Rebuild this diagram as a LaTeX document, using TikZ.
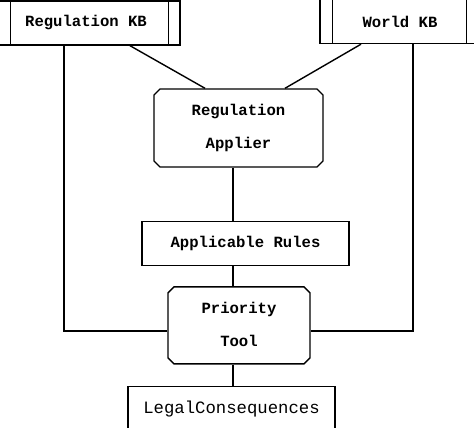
\documentclass[tikz,border=0pt]{standalone}
\usepackage{fontspec}
\setmonofont{Liberation Mono}
\usetikzlibrary{positioning,shapes.misc}
\newcommand{\boxfont}{\fontsize{15.6}{33}\selectfont\ttfamily\bfseries}
\tikzset{
 kbbox/.style={draw,line width=1.4pt,minimum height=44pt,inner sep=0pt,font=\boxfont},
 stepbox/.style={draw,line width=1.4pt,align=center,inner sep=0pt,font=\boxfont},
 cutbox/.style={stepbox,chamfered rectangle,chamfered rectangle xsep=3pt,chamfered rectangle ysep=3pt},
 link/.style={line width=1.4pt}
}
\begin{document}
\begin{tikzpicture}[x=1pt,y=-1pt]
\useasboundingbox (0,0) rectangle (474,428);
% knowledge bases
\node[kbbox,minimum width=184pt] (regkb) at (88,23) {\hspace*{-4pt}Regulation KB};
\node[kbbox,minimum width=160pt] (worldkb) at (400,21.5) {World KB};
\draw[link] ([xshift=15pt]regkb.north west) -- ([xshift=15pt]regkb.south west);
\draw[link] ([xshift=-12pt]regkb.north east) -- ([xshift=-12pt]regkb.south east);
\draw[link] ([xshift=13pt]worldkb.north west) -- ([xshift=13pt]worldkb.south west);
\draw[link] ([xshift=-14pt]worldkb.north east) -- ([xshift=-14pt]worldkb.south east);
% main column
\node[cutbox,minimum width=169pt,minimum height=78pt] (ra) at (238.5,128) {Regulation\\Applier};
\node[stepbox,minimum width=207pt,minimum height=44pt,below=53pt of ra,xshift=7pt] (ar) {Applicable Rules};
\node[cutbox,minimum width=142pt,minimum height=77pt,below=20pt of ar,xshift=-6.5pt] (pt) {\raisebox{2pt}{Priority}\\\raisebox{2pt}{Tool}};
\node[stepbox,minimum width=207pt,minimum height=46pt,below=21pt of pt,xshift=-7.5pt,
      font=\fontsize{17.3}{20}\selectfont\ttfamily] (lc) {\raisebox{4pt}{LegalConsequences}};
\coordinate (spine) at (233,0);
% connectors
\draw[link] ([xshift=42pt]regkb.south) -- ([xshift=-33.5pt]ra.north);
\draw[link] ([xshift=-39pt]worldkb.south) -- ([xshift=46.5pt]ra.north);
\draw[link] (ra.south -| spine) -- (ar.north -| spine);
\draw[link] (ar.south -| spine) -- (pt.north -| spine);
\draw[link] (pt.south -| spine) -- (lc.north -| spine);
\draw[link] ([xshift=-24pt]regkb.south) |- ([yshift=-5.5pt]pt.west);
\draw[link] ([xshift=13pt]worldkb.south) |- ([yshift=-5.5pt]pt.east);
\end{tikzpicture}
\end{document}
